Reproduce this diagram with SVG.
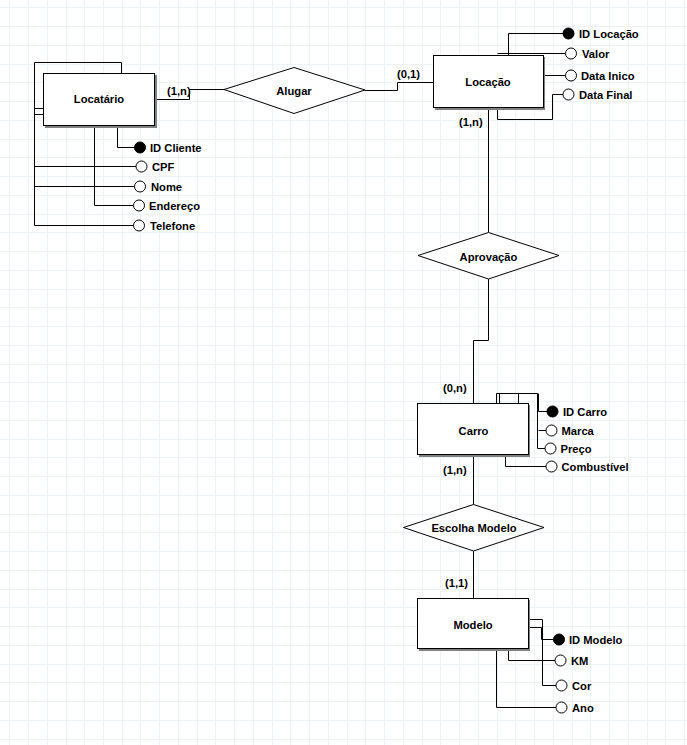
<svg xmlns="http://www.w3.org/2000/svg" width="687" height="745" viewBox="0 0 687 745">
<style>
.grid{stroke:#edf2f7;stroke-width:1;fill:none}
.ln{stroke:#000;stroke-width:1;fill:none}
.sh{fill:#808080}
.ent{fill:#fff;stroke:#000;stroke-width:1}
.rel{fill:#fff;stroke:#000;stroke-width:1}
.t{font-family:"Liberation Sans",Arial,sans-serif;font-size:11.2px;font-weight:bold;fill:#000}
.c{text-anchor:middle}
.ao{fill:#fff;stroke:#000;stroke-width:1}
.ak{fill:#000;stroke:#000;stroke-width:1}
</style>
<rect width="687" height="745" fill="#fff"/>
<path class="grid" d="M9.5 0V745M28.5 0V745M47.5 0V745M66.5 0V745M84.5 0V745M103.5 0V745M122.5 0V745M140.5 0V745M159.5 0V745M178.5 0V745M197.5 0V745M215.5 0V745M234.5 0V745M253.5 0V745M272.5 0V745M290.5 0V745M309.5 0V745M328.5 0V745M347.5 0V745M365.5 0V745M384.5 0V745M403.5 0V745M422.5 0V745M440.5 0V745M459.5 0V745M478.5 0V745M497.5 0V745M515.5 0V745M534.5 0V745M553.5 0V745M572.5 0V745M590.5 0V745M609.5 0V745M628.5 0V745M647.5 0V745M665.5 0V745M684.5 0V745
M0 7.5H687M0 26.5H687M0 45.5H687M0 64.5H687M0 82.5H687M0 101.5H687M0 120.5H687M0 139.5H687M0 157.5H687M0 176.5H687M0 195.5H687M0 214.5H687M0 232.5H687M0 251.5H687M0 270.5H687M0 289.5H687M0 307.5H687M0 326.5H687M0 345.5H687M0 364.5H687M0 382.5H687M0 401.5H687M0 420.5H687M0 439.5H687M0 457.5H687M0 476.5H687M0 495.5H687M0 514.5H687M0 532.5H687M0 551.5H687M0 570.5H687M0 589.5H687M0 607.5H687M0 626.5H687M0 645.5H687M0 664.5H687M0 682.5H687M0 701.5H687M0 720.5H687M0 739.5H687"/>

<g id="connectors">
<path class="ln" d="M121.5 73V62.5H34.5V225.5H133.5"/>
<path class="ln" d="M34.5 108.5H43M34.5 114.5H43"/>
<path class="ln" d="M34.5 166.5H136"/>
<path class="ln" d="M34.5 186.5H134.5"/>
<path class="ln" d="M117.5 126V147.5H134.5"/>
<path class="ln" d="M94.5 126V205.5H133.5"/>
<path class="ln" d="M155 99.5H189.5V89.5H224"/>
<path class="ln" d="M365 90.5H397.5V82.5H433"/>
<path class="ln" d="M508.5 55V33.5H563"/>
<path class="ln" d="M497.5 53.5H565.5"/>
<path class="ln" d="M544 75.5H565.5"/>
<path class="ln" d="M497.5 108V119.5H552.5V94.5H563"/>
<path class="ln" d="M488.5 108V232.5"/>
<path class="ln" d="M488.5 279V340.5H473.5V403"/>
<path class="ln" d="M496.5 403V393.5H537.5V448.5H545"/>
<path class="ln" d="M499.5 403V393.5M518.5 403V393.5"/>
<path class="ln" d="M538.5 393.5V411.5H547M538.5 430.5H546"/>
<path class="ln" d="M505.5 455V466.5H546"/>
<path class="ln" d="M473.5 455V504.5"/>
<path class="ln" d="M473.5 551V598"/>
<path class="ln" d="M528 619.5H542.5V685.5H556"/>
<path class="ln" d="M528 627.5H541.5V639.5H553.5"/>
<path class="ln" d="M508.5 649V660.5H555"/>
<path class="ln" d="M496.5 649V707.5H556"/>
<text class="t" x="167" y="95">(1,n)</text>
<text class="t" x="397" y="78">(0,1)</text>
<text class="t" x="459" y="126">(1,n)</text>
<text class="t" x="443" y="392">(0,n)</text>
<text class="t" x="443" y="474">(1,n)</text>
<text class="t" x="445" y="587">(1,1)</text>
</g>

<g id="locatario">
<rect class="sh" x="45" y="75" width="112" height="53"/>
<rect class="ent" x="43.5" y="73.5" width="111" height="52"/>
<text class="t c" x="99" y="103">Locatário</text>
</g>
<g id="locatario-id-cliente"><circle class="ak" cx="140" cy="147.5" r="5.5"/><text class="t" x="150" y="151.5">ID Cliente</text></g>
<g id="locatario-cpf"><circle class="ao" cx="141.5" cy="166.5" r="5.5"/><text class="t" x="152" y="170.5">CPF</text></g>
<g id="locatario-nome"><circle class="ao" cx="140" cy="186.5" r="5.5"/><text class="t" x="151" y="190.5">Nome</text></g>
<g id="locatario-endereco"><circle class="ao" cx="139" cy="205.5" r="5.5"/><text class="t" x="149" y="209.5">Endereço</text></g>
<g id="locatario-telefone"><circle class="ao" cx="139" cy="225.5" r="5.5"/><text class="t" x="150" y="229.5">Telefone</text></g>

<g id="alugar">
<polygon class="rel" points="224,89.5 294,67.5 365,90 294,113.5"/>
<text class="t c" x="294" y="94.5">Alugar</text>
</g>

<g id="locacao">
<rect class="sh" x="435" y="57" width="110" height="53"/>
<rect class="ent" x="433.5" y="55.5" width="110" height="52"/>
<text class="t c" x="488" y="85.5">Locação</text>
</g>
<g id="locacao-id"><circle class="ak" cx="568.5" cy="33.5" r="5.5"/><text class="t" x="579" y="37.5">ID Locação</text></g>
<g id="locacao-valor"><circle class="ao" cx="571" cy="53.5" r="5.5"/><text class="t" x="582" y="57.5">Valor</text></g>
<g id="locacao-data-inico"><circle class="ao" cx="571" cy="75.5" r="5.5"/><text class="t" x="581" y="79.5">Data Inico</text></g>
<g id="locacao-data-final"><circle class="ao" cx="568.5" cy="94.5" r="5.5"/><text class="t" x="579" y="98.5">Data Final</text></g>

<g id="aprovacao">
<polygon class="rel" points="418,255.5 488.5,232.5 559,255.5 488.5,279"/>
<text class="t c" x="488.5" y="261">Aprovação</text>
</g>

<g id="carro">
<rect class="sh" x="419" y="405" width="111" height="52"/>
<rect class="ent" x="417.5" y="403.5" width="111" height="51"/>
<text class="t c" x="473.5" y="434.5">Carro</text>
</g>
<g id="carro-id"><circle class="ak" cx="552.5" cy="411.5" r="5.5"/><text class="t" x="563" y="415.5">ID Carro</text></g>
<g id="carro-marca"><circle class="ao" cx="551.5" cy="430.5" r="5.5"/><text class="t" x="561.5" y="434.5">Marca</text></g>
<g id="carro-preco"><circle class="ao" cx="550.5" cy="448.5" r="5.5"/><text class="t" x="560.5" y="452.5">Preço</text></g>
<g id="carro-combustivel"><circle class="ao" cx="551.5" cy="466.5" r="5.5"/><text class="t" x="561.5" y="470.5">Combustível</text></g>

<g id="escolha-modelo">
<polygon class="rel" points="403.5,527.5 473.5,504.5 544,527.5 473.5,551"/>
<text class="t c" x="474" y="532">Escolha Modelo</text>
</g>

<g id="modelo">
<rect class="sh" x="419" y="600" width="111" height="51"/>
<rect class="ent" x="417.5" y="598.5" width="111" height="50"/>
<text class="t c" x="473" y="629">Modelo</text>
</g>
<g id="modelo-id"><circle class="ak" cx="559" cy="639.5" r="5.5"/><text class="t" x="569" y="643.5">ID Modelo</text></g>
<g id="modelo-km"><circle class="ao" cx="560.5" cy="660.5" r="5.5"/><text class="t" x="571" y="664.5">KM</text></g>
<g id="modelo-cor"><circle class="ao" cx="561.5" cy="685.5" r="5.5"/><text class="t" x="572" y="689.5">Cor</text></g>
<g id="modelo-ano"><circle class="ao" cx="561.5" cy="707.5" r="5.5"/><text class="t" x="572" y="711.5">Ano</text></g>
</svg>
